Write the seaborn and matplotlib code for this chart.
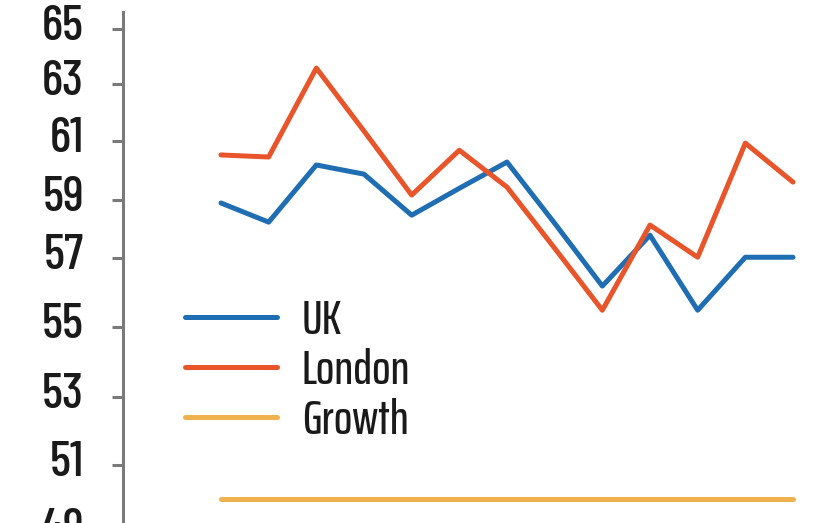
import numpy as np
import pandas as pd
import seaborn as sns
import matplotlib.pyplot as plt
from matplotlib.transforms import ScaledTranslation

# Data (13 periods)
periods = list(range(13))
uk = [58.9, 58.24, 60.19, 59.88, 58.48, 59.4, 60.29, 58.2, 56.19, 57.79, 55.49, 57.03, 57.03]
london = [60.53, 60.46, 63.58, 61.35, 59.17, 60.69, 59.44, 57.34, 55.49, 58.14, 57.03, 60.93, 59.61]
growth = [50.0] * 13

ytick_values = [49, 51, 53, 55, 57, 59, 61, 63, 65]

# the original axis is not evenly spaced: pixel spacing between each pair of ticks
scale_vals = np.array([47, 49, 51, 53, 55, 57, 59, 61, 63, 65, 67])
scale_pos = -np.array([600, 532, 465, 397, 327, 258, 200, 141, 84, 29, -26], dtype=float)


def fwd(v):
    return np.interp(v, scale_vals, scale_pos)


def inv(p):
    return np.interp(p, scale_pos, scale_vals)


df = pd.DataFrame({
    'period': periods * 3,
    'value': uk + london + growth,
    'series': ['UK'] * 13 + ['London'] * 13 + ['Growth'] * 13,
})

colors = {'UK': '#1f6db2', 'London': '#e8552b', 'Growth': '#f0b24e'}

sns.set_style('white')
plt.rcParams['font.family'] = ['Barlow Condensed', 'Roboto Condensed', 'DejaVu Sans']
legend_font = ['Saira ExtraCondensed', 'Barlow Condensed', 'DejaVu Sans']

fig = plt.figure(figsize=(8.39, 5.23), dpi=100)
ax = fig.add_axes([123 / 839, -50 / 523, 1 - 123 / 839, (523 + 50 - 12) / 523])

sns.lineplot(data=df, x='period', y='value', hue='series', palette=colors,
             linewidth=3.6, ax=ax, legend=True)

ax.set_yscale('function', functions=(fwd, inv))
ax.set_ylim(47.8, 65.62)
ax.set_xlim(-2.056, 12.965)
ax.set_yticks(ytick_values)
ax.set_yticklabels([str(v) for v in ytick_values], fontweight='medium')
ax.set_xticks([])
ax.set_xlabel('')
ax.set_ylabel('')

for s in ['top', 'right', 'bottom']:
    ax.spines[s].set_visible(False)
ax.spines['left'].set_color('#7a7a7a')
ax.spines['left'].set_linewidth(2.2)
ax.tick_params(axis='y', left=True, length=8, width=2.2, color='#7a7a7a',
               pad=20, labelsize=36, labelcolor='#1a1a1a')

offset = ScaledTranslation(0, 7 / 100, fig.dpi_scale_trans)
for lab in ax.get_yticklabels():
    lab.set_transform(lab.get_transform() + offset)

ax.legend(loc='upper left', bbox_to_anchor=(185 / 839, 1 - 298 / 523),
          bbox_transform=fig.transFigure, frameon=False, borderpad=0,
          borderaxespad=0, handlelength=1.9, handletextpad=0.5,
          labelspacing=0.1, labelcolor='#1a1a1a',
          prop={'family': legend_font, 'size': 35, 'weight': 'medium'})

fig.savefig('out.png', dpi=100)
